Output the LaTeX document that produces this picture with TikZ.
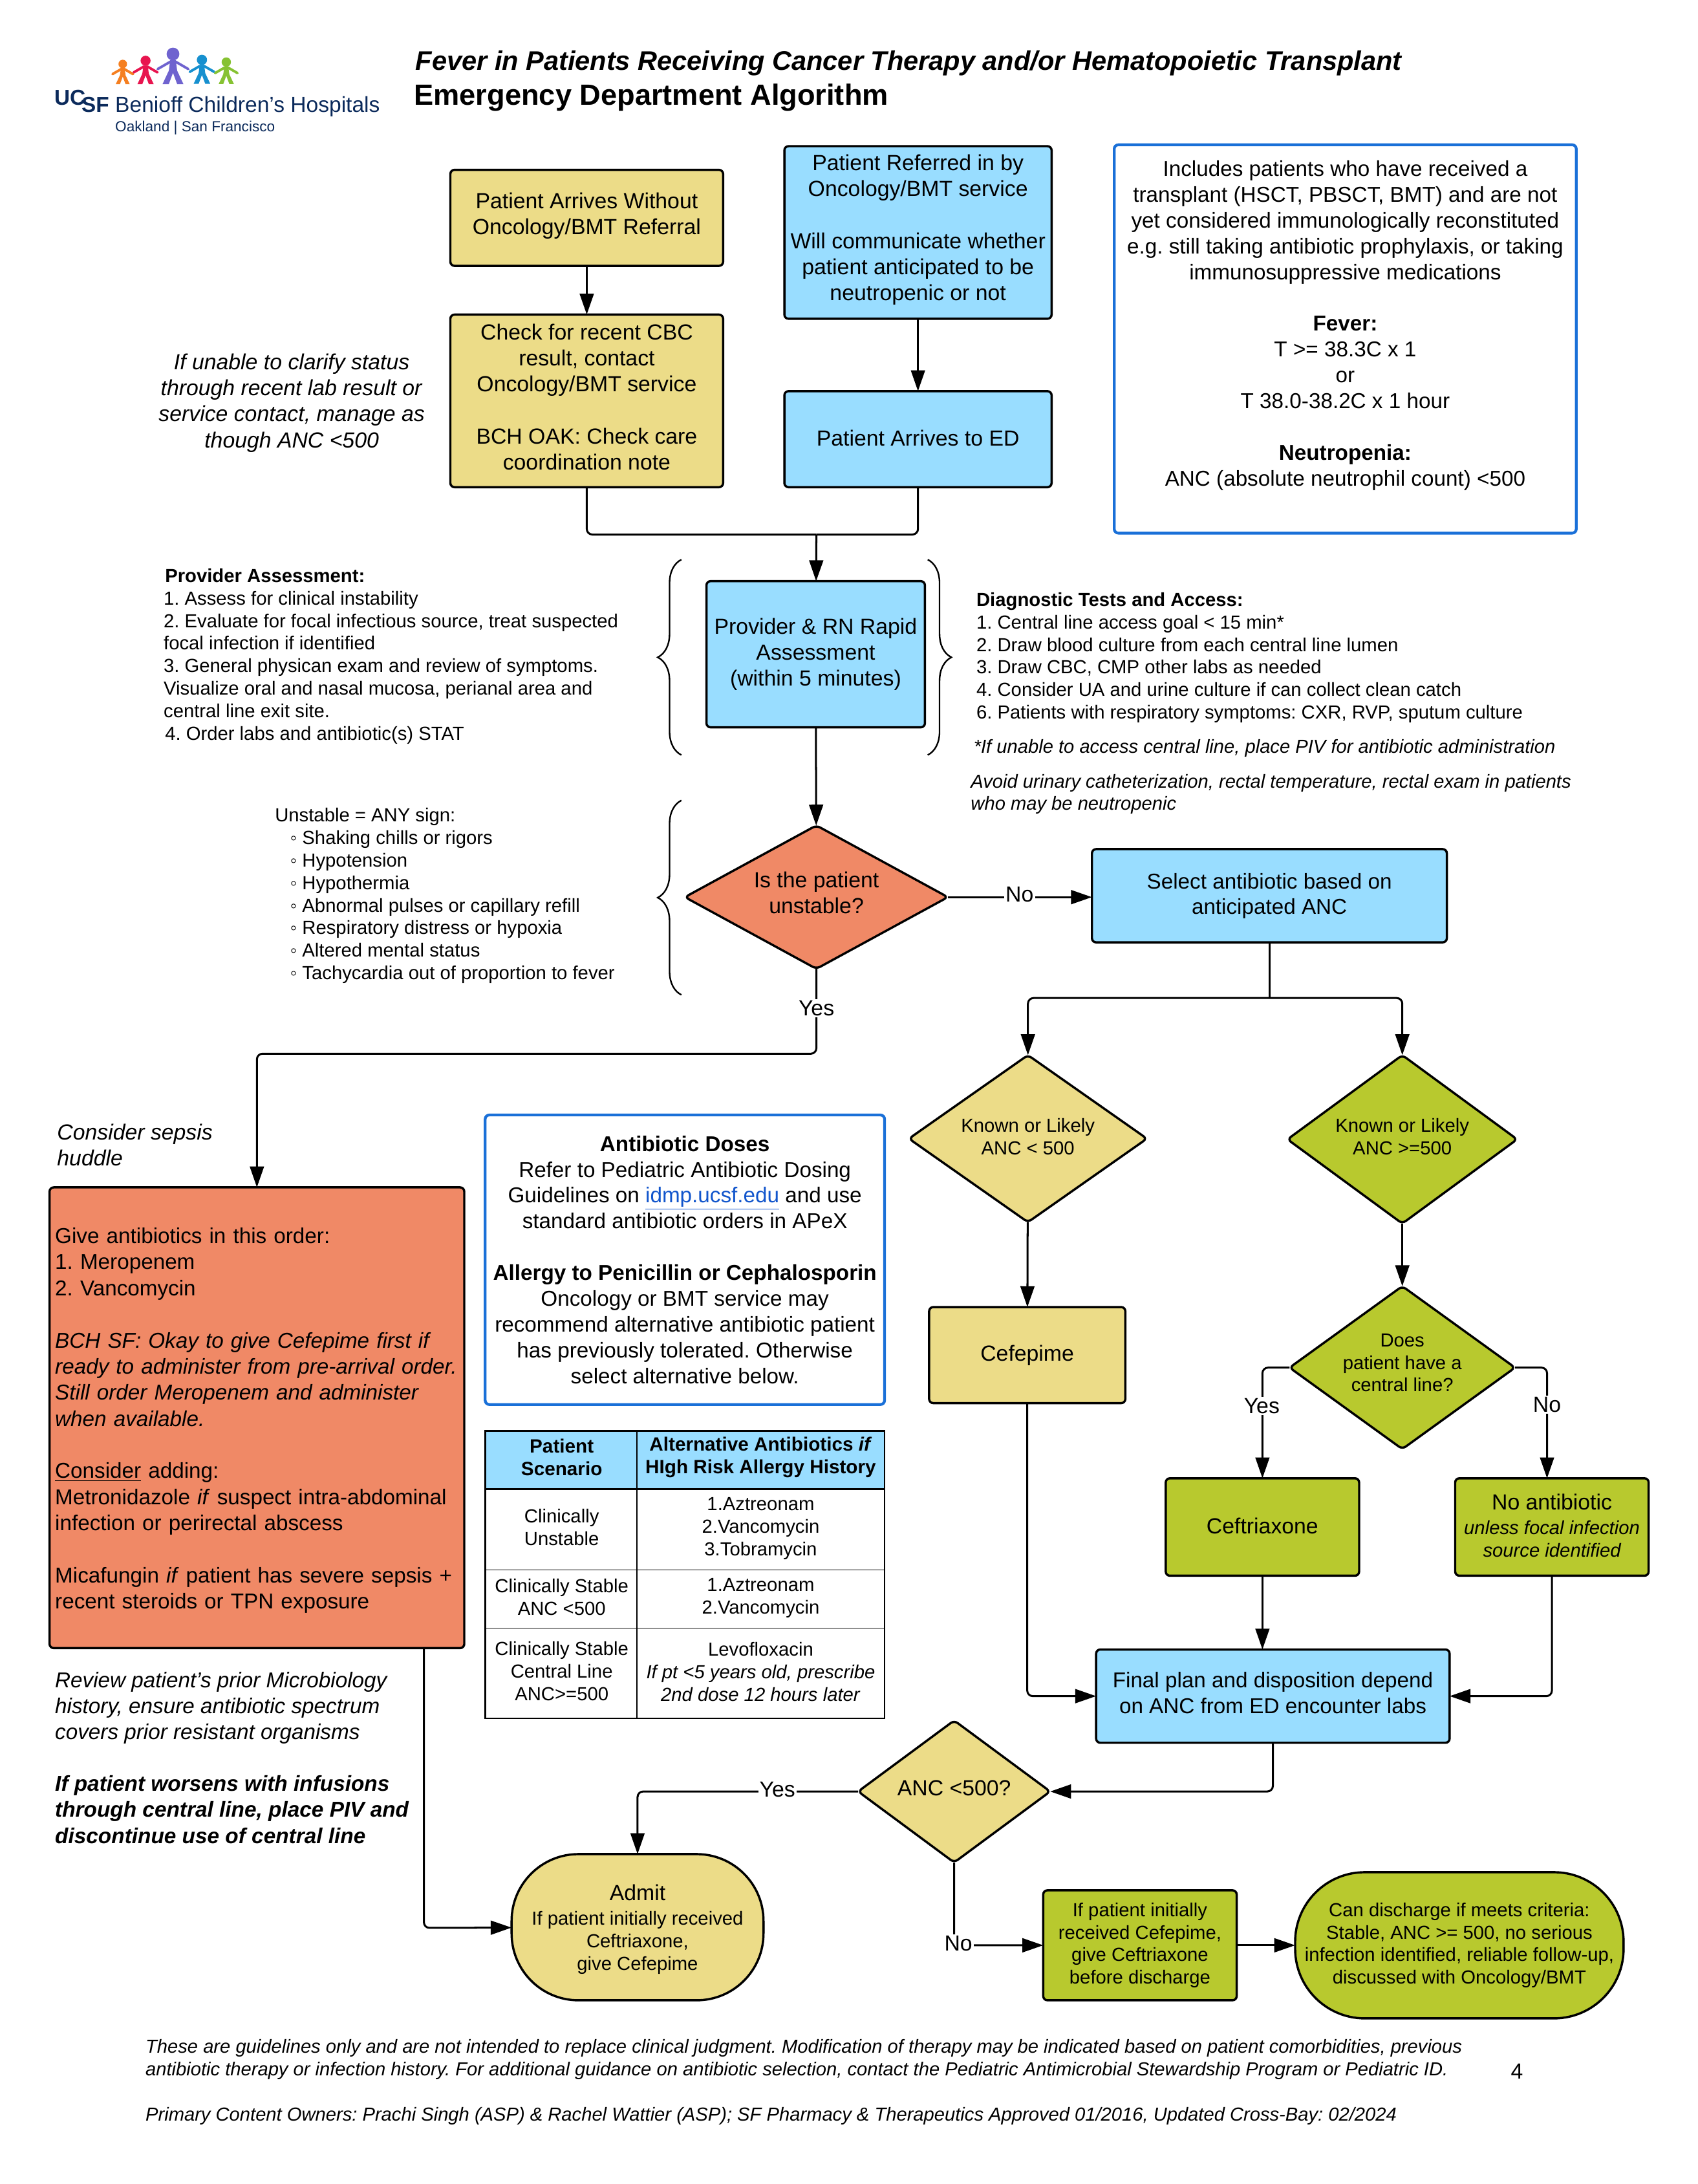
\documentclass[tikz,border=0pt]{standalone}
\usepackage{fontspec}
\setmainfont{Liberation Sans}
\usetikzlibrary{arrows.meta,shapes.geometric,decorations.pathreplacing}

\definecolor{boxyellow}{HTML}{ECDC88}
\definecolor{boxblue}{HTML}{99DDFF}
\definecolor{boxorange}{HTML}{F08966}
\definecolor{boxolive}{HTML}{B8C92E}
\definecolor{framblue}{HTML}{1A70D8}
\definecolor{linkblue}{HTML}{1155CC}
\definecolor{logonavy}{HTML}{0B2A5B}
\definecolor{kidorange}{HTML}{F57F20}
\definecolor{kidred}{HTML}{E8154F}
\definecolor{kidpurple}{HTML}{6F63CF}
\definecolor{kidblue}{HTML}{1790CF}
\definecolor{kidgreen}{HTML}{86C232}

\newcommand{\bodyfont}{\fontsize{15.7}{18.7}\selectfont}
\newcommand{\tightfont}{\fontsize{15.45}{18.55}\selectfont}
\newcommand{\smallfont}{\fontsize{13.6}{16.2}\selectfont}
\newcommand{\slantfont}{\fontsize{13.55}{16.2}\selectfont\itshape}

\tikzset{
  box/.style={draw, rounded corners=3pt, line width=1.6pt, align=center, inner sep=0pt, outer sep=0pt, font=\bodyfont},
  framed/.style={box, draw=framblue, line width=2pt, fill=white, font=\tightfont},
  dia/.style={box, diamond},
  note/.style={align=left, inner sep=0pt, outer sep=0pt, anchor=west, font=\smallfont},
  bignote/.style={note, font=\bodyfont},
  cell/.style={align=center, inner sep=0pt, font=\smallfont},
  lab/.style={fill=white, inner sep=1pt, font=\bodyfont},
  flow/.style={line width=1.4pt, rounded corners=4pt, -{Triangle[length=15pt,width=10pt]}},
  plain/.style={line width=1.4pt, rounded corners=4pt},
  bracket/.style={line width=1.1pt, decorate, decoration={brace, amplitude=17pt}},
  kid/.pic={
    \fill (0,0) circle [radius=4.6];
    \fill (-2,4.5) -- (2,4.5) -- (3,12) -- (7.5,21.6) -- (3,21.6) -- (0,13.5) -- (-3,21.6) -- (-7.5,21.6) -- (-3,12) -- cycle;
    \draw[line width=1.8pt, line cap=round] (-11,10.8) -- (-2,5.6) -- (2,5.6) -- (11,10.8);
  }
}

\begin{document}
\frenchspacing
\hyphenpenalty=10000
\exhyphenpenalty=10000
\begin{tikzpicture}[x=1pt,y=-1pt]
\useasboundingbox (-.6,0) rectangle (1219.4,1569);

% logo
\pic[kidorange, scale=.67] at (87.6,46) {kid};
\pic[kidred, scale=.78] at (104,43.6) {kid};
\pic[kidpurple] at (123.7,38.8) {kid};
\pic[kidblue, scale=.8] at (144.5,43) {kid};
\pic[kidgreen, scale=.73] at (162,44.6) {kid};
\node[note, logonavy, font=\fontsize{15.5}{16}\selectfont\bfseries] (logouc) at (38.5,70) {UC};
\node[note, logonavy, font=\fontsize{15.5}{16}\selectfont\bfseries] (logosf) at (58,75.5) {SF};
\node[inner sep=0pt, anchor=base west, logonavy, font=\fontsize{15.6}{18}\selectfont] (logoname) at (82,80.5) {Benioff Children’s Hospitals};
\node[inner sep=0pt, anchor=base west, logonavy, font=\fontsize{10.5}{13}\selectfont] (logocity) at (82,94.5) {Oakland | San Francisco};

% title
\node[note, font=\fontsize{19.3}{22}\bfseries\itshape\selectfont] (title) at (298,45.5) {Fever in Patients Receiving Cancer Therapy and/or Hematopoietic Transplant};
\node[note, font=\fontsize{21}{24}\bfseries\selectfont] (subtitle) at (297,70) {Emergency Department Algorithm};

% top boxes
\node[box, fill=boxyellow, minimum width=196, minimum height=69] (arrive) at (421,156.5) {Patient Arrives Without\\Oncology/BMT Referral\\[-12.7pt]};
\node[box, fill=boxyellow, minimum width=196, minimum height=124] (check) at (421,288) {Check for recent CBC\\result, contact\\Oncology/BMT service\\[18.7pt]BCH OAK: Check care\\coordination note\\[-12.7pt]};
\node[box, fill=boxblue, minimum width=192, minimum height=124] (referred) at (659,167) {Patient Referred in by\\Oncology/BMT service\\[18.7pt]Will communicate whether\\patient anticipated to be\\neutropenic or not\\[-11.7pt]};
\node[box, fill=boxblue, minimum width=192, minimum height=69] (toed) at (659,315.5) {Patient Arrives to ED\\[-16.7pt]};
\node[framed, minimum width=332, minimum height=279] (info) at (966,243.5) {Includes patients who have received a\\transplant (HSCT, PBSCT, BMT) and are not\\yet considered immunologically reconstituted\\e.g. still taking antibiotic prophylaxis, or taking\\immunosuppressive medications\\[18.55pt]\textbf{Fever:}\\T >= 38.3C x 1\\or\\T 38.0-38.2C x 1 hour\\[18.55pt]\textbf{Neutropenia:}\\ANC (absolute neutrophil count) <500\\[4pt]};
\node[bignote, align=center, anchor=center] (unclear) at (209,289.5) {\textit{If unable to clarify status}\\\textit{through recent lab result or}\\\textit{service contact, manage as}\\\textit{though ANC <500}};

% assessment
\node[box, fill=boxblue, minimum width=157, minimum height=105] (rapid) at (585.5,470) {Provider \& RN Rapid\\Assessment\\(within 5 minutes)};
\node[dia, fill=boxorange, minimum width=189, minimum height=103, label={[cell, font=\bodyfont, yshift=3pt]center:{Is the patient\\unstable?}}] (unstable) at (586,644.5) {};
\node[box, fill=boxblue, minimum width=255, minimum height=67, font=\tightfont] (select) at (911.5,643.5) {Select antibiotic based on\\anticipated ANC\\[-15.7pt]};
\node[note] (provider) at (117,471.5) {\hspace*{1pt}\textbf{Provider Assessment:}\\1. Assess for clinical instability\\2. Evaluate for focal infectious source, treat suspected\\focal infection if identified\\3. General physican exam and review of symptoms.\\Visualize oral and nasal mucosa, perianal area and\\central line exit site.\\\hspace*{1pt}4. Order labs and antibiotic(s) STAT};
\node[note] (tests) at (701,472.5) {\textbf{Diagnostic Tests and Access:}\\1. Central line access goal < 15 min*\\2. Draw blood culture from each central line lumen\\3. Draw CBC, CMP other labs as needed\\4. Consider UA and urine culture if can collect clean catch\\6. Patients with respiratory symptoms: CXR, RVP, sputum culture};
\node[note, font=\slantfont] (piv) at (699,537.5) {*If unable to access central line, place PIV for antibiotic administration};
\node[note, font=\slantfont] (avoid) at (697,570.5) {Avoid urinary catheterization, rectal temperature, rectal exam in patients\\who may be neutropenic};
\node[note] (signs) at (197,643.5) {Unstable = ANY sign:\\\hspace*{11pt}◦ Shaking chills or rigors\\\hspace*{11pt}◦ Hypotension\\\hspace*{11pt}◦ Hypothermia\\\hspace*{11pt}◦ Abnormal pulses or capillary refill\\\hspace*{11pt}◦ Respiratory distress or hypoxia\\\hspace*{11pt}◦ Altered mental status\\\hspace*{11pt}◦ Tachycardia out of proportion to fever};

% braces
\draw[bracket] (489,542.4) -- (489,402);
\draw[bracket] (666,402) -- (666,542.4);
\draw[bracket] (489,714.7) -- (489,575);

% left column
\node[bignote, font=\bodyfont\itshape] (huddle) at (40.5,822.5) {Consider sepsis\\huddle};
\node[box, fill=boxorange, minimum width=298, minimum height=331, label={[text width=290, align=left, inner sep=0pt, font=\fontsize{15.45}{18.75}\selectfont, yshift=-2pt]center:{Give antibiotics in this order:\\1. Meropenem\\2. Vancomycin\\[18.75pt]\textit{BCH SF: Okay to give Cefepime first if}\\\textit{ready to administer from pre-arrival order.}\\\textit{Still order Meropenem and administer}\\\textit{when available.}\\[18.75pt]\underline{Consider} adding:\\Metronidazole \textit{if} suspect intra-abdominal\\infection or perirectal abscess\\[18.75pt]Micafungin \textit{if} patient has severe sepsis +\\recent steroids or TPN exposure}}] (give) at (184,1018.5) {};
\node[bignote, font=\fontsize{15.45}{18.7}\selectfont\itshape] (review) at (39,1227) {Review patient's prior Microbiology\\history, ensure antibiotic spectrum\\covers prior resistant organisms};
\node[bignote, font=\fontsize{15.5}{18.7}\selectfont\itshape\bfseries] (worsens) at (39,1300) {If patient worsens with infusions\\through central line, place PIV and\\discontinue use of central line};

% doses and table
\node[framed, minimum width=287, minimum height=208] (doses) at (491.5,905) {\textbf{Antibiotic Doses}\\Refer to Pediatric Antibiotic Dosing\\Guidelines on \textcolor{linkblue}{\underline{idmp.ucsf.edu}} and use\\standard antibiotic orders in APeX\\[18.55pt]\textbf{Allergy to Penicillin or Cephalosporin}\\Oncology or BMT service may\\recommend alternative antibiotic patient\\has previously tolerated. Otherwise\\select alternative below.};
\fill[boxblue] (348,1028) rectangle (635,1069.7);
\draw[line width=1.2pt] (348,1028) rectangle (635,1234.5);
\draw[line width=1.2pt] (457,1028) -- (457,1234.5);
\draw[line width=1.2pt] (348,1069.7) -- (635,1069.7);
\draw[line width=.7pt] (348,1127.8) -- (635,1127.8);
\draw[line width=.7pt] (348,1169.6) -- (635,1169.6);
\node[cell, font=\fontsize{13.8}{16.2}\selectfont] (headleft) at (403,1047) {\textbf{Patient}\\\textbf{Scenario}};
\node[cell, font=\fontsize{13.8}{16.2}\selectfont] (headright) at (546,1047) {\textbf{Alternative Antibiotics \textit{if}}\\\textbf{HIgh Risk Allergy History}};
\node[cell] (rowoneleft) at (403,1097) {Clinically\\Unstable};
\node[cell] (rowoneright) at (546,1098) {1.Aztreonam\\2.Vancomycin\\3.Tobramycin};
\node[cell] (rowtwoleft) at (403,1147.5) {Clinically Stable\\ANC <500};
\node[cell] (rowtworight) at (546,1148) {1.Aztreonam\\2.Vancomycin};
\node[cell] (rowthreeleft) at (403,1200.5) {Clinically Stable\\Central Line\\ANC>=500};
\node[cell] (rowthreeright) at (546,1201) {Levofloxacin\\\textit{If pt <5 years old, prescribe}\\\textit{2nd dose 12 hours later}};

% right branch
\node[dia, fill=boxyellow, minimum width=171, minimum height=120, label={[cell, yshift=1.5pt]center:{Known or Likely\\ANC < 500}}] (knownlow) at (738,818) {};
\node[dia, fill=boxolive, minimum width=165, minimum height=121, label={[cell, yshift=2pt]center:{Known or Likely\\ANC >=500}}] (knownhigh) at (1007,818.5) {};
\node[box, fill=boxyellow, minimum width=141, minimum height=69] (cefepime) at (737.5,973.5) {Cefepime};
\node[dia, fill=boxolive, minimum width=162, minimum height=117, label={[cell, yshift=3.5pt]center:{Does\\patient have a\\central line?}}] (central) at (1007,982.5) {};
\node[box, fill=boxolive, minimum width=139, minimum height=70] (ceftriaxone) at (906.5,1097) {Ceftriaxone\\[-16.7pt]};
\node[box, fill=boxolive, minimum width=139, minimum height=70] (noanti) at (1114.5,1097) {No antibiotic\\[-1pt]{\smallfont\itshape unless focal infection}\\[-2.5pt]{\smallfont\itshape source identified}\\[-16.7pt]};
\node[box, fill=boxblue, minimum width=254, minimum height=67, font=\tightfont] (final) at (914,1218.5) {Final plan and disposition depend\\on ANC from ED encounter labs\\[-13.7pt]};
\node[dia, fill=boxyellow, minimum width=138, minimum height=102, label={[cell, font=\bodyfont, yshift=2.5pt]center:{ANC <500?}}] (anclow) at (685,1287) {};
\node[box, fill=boxyellow, rounded corners=48pt, minimum width=181, minimum height=105, label={[cell, font=\bodyfont, yshift=-1.5pt]center:{Admit\\[-1pt]{\smallfont If patient initially received}\\[-2.5pt]{\smallfont Ceftriaxone,}\\[-2.5pt]{\smallfont give Cefepime}}}] (admit) at (457.5,1384.5) {};
\node[box, fill=boxolive, minimum width=139, minimum height=79, font=\smallfont] (initial) at (818.5,1397.5) {If patient initially\\received Cefepime,\\give Ceftriaxone\\before discharge};
\node[box, fill=boxolive, rounded corners=50pt, minimum width=236, minimum height=105, font=\smallfont] (discharge) at (1048,1397.5) {Can discharge if meets criteria:\\Stable, ANC >= 500, no serious\\infection identified, reliable follow-up,\\discussed with Oncology/BMT};

% connectors
\coordinate (merge) at (586,384);
\coordinate (split) at (911.5,717);
\coordinate (yesturn) at (586,757);
\coordinate (noantitop) at (1111,1062);
\coordinate (admitturn) at (304,1385);
\draw[flow] (arrive) -- (check);
\draw[flow] (referred) -- (toed);
\draw[plain] (check) |- (merge);
\draw[plain] (toed) |- (merge);
\draw[flow] (merge) -- (rapid);
\draw[flow] (rapid) -- (unstable);
\draw[flow] (unstable) -- (unstable -| select.west);
\draw[flow] (unstable) -- (yesturn) -| (give);
\draw[plain] (select) -- (split);
\draw[flow] (split) -| (knownlow);
\draw[flow] (split) -| (knownhigh);
\draw[flow] (knownlow) -- (cefepime);
\draw[flow] (knownhigh) -- (central);
\draw[flow] (central) -| (ceftriaxone);
\draw[flow] (central) -| (noantitop);
\draw[flow] (ceftriaxone.south) -- (ceftriaxone.south |- final.north);
\draw[flow] (noanti) |- (final);
\draw[flow] (cefepime) |- (final);
\draw[flow] (final) |- (anclow);
\draw[flow] (anclow) -| (admit);
\draw[flow] (anclow.south) |- (initial);
\draw[flow] (initial) -- (discharge);
\draw[flow] (admitturn |- give.south) -- (admitturn) -- (admit);

% connector labels
\node[lab] (labno) at (732,642.5) {No};
\node[lab] (labyes) at (586,724.5) {Yes};
\node[lab] (labcentralyes) at (906,1010) {Yes};
\node[lab] (labcentralno) at (1111,1009) {No};
\node[lab] (labancyes) at (558,1285.5) {Yes};
\node[lab] (labancno) at (688,1396) {No};

% footer
\node[note, font=\slantfont] (disclaimer) at (104,1479.5) {These are guidelines only and are not intended to replace clinical judgment. Modification of therapy may be indicated based on patient comorbidities, previous\\antibiotic therapy or infection history. For additional guidance on antibiotic selection, contact the Pediatric Antimicrobial Stewardship Program or Pediatric ID.};
\node[note, font=\slantfont] (owners) at (104,1520) {Primary Content Owners: Prachi Singh (ASP) \& Rachel Wattier (ASP); SF Pharmacy \& Therapeutics Approved 01/2016, Updated Cross-Bay: 02/2024};
\node[bignote] (pagenum) at (1085,1488) {4};
\end{tikzpicture}
\end{document}
